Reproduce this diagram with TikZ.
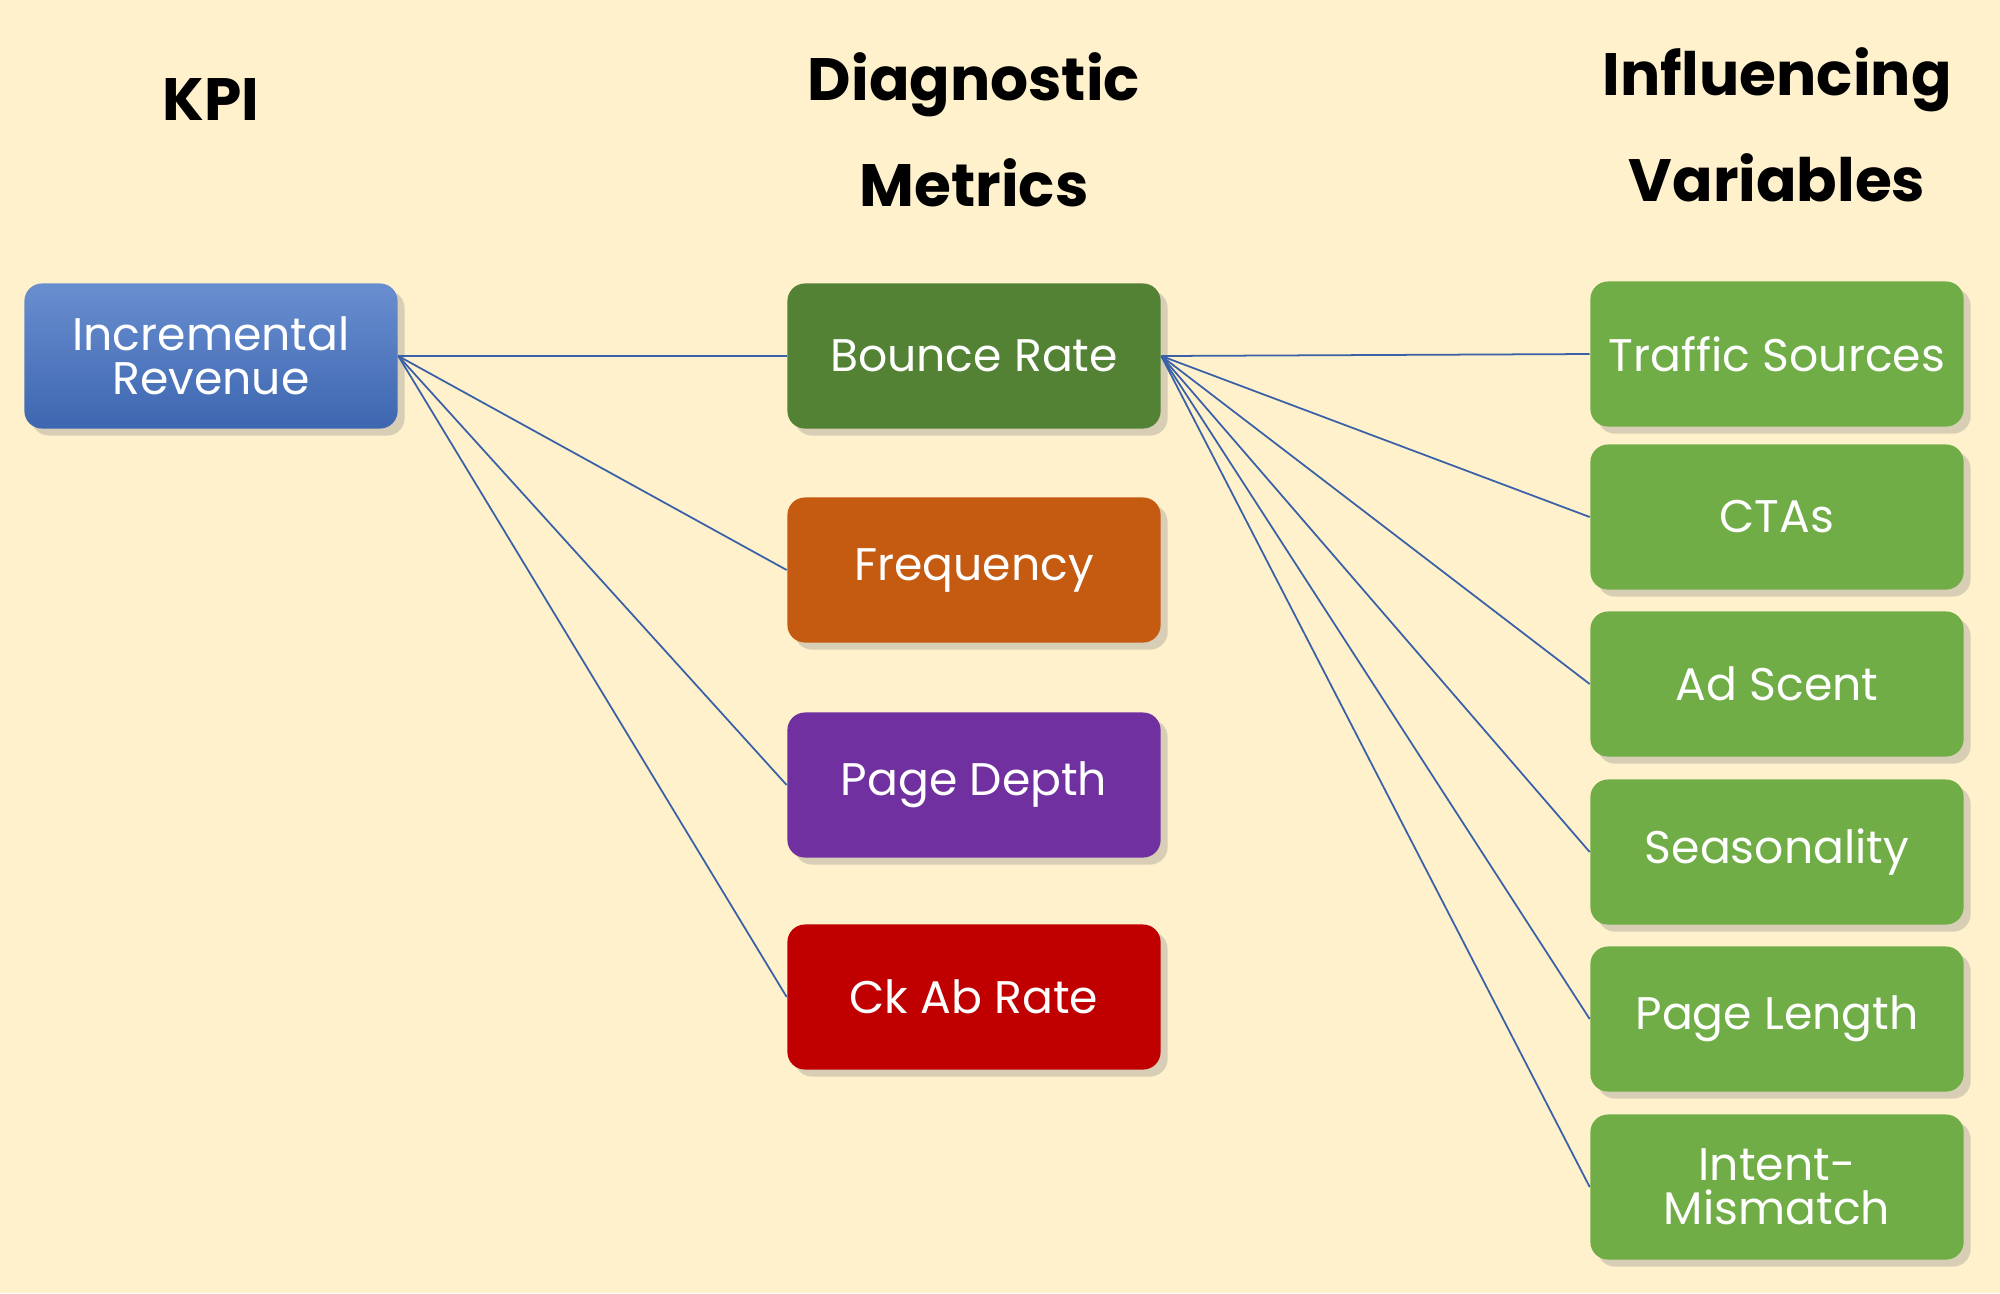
\documentclass[tikz,border=0pt]{standalone}
\usepackage{fontspec}
\setmainfont{Poppins}
\usetikzlibrary{shadows}
\definecolor{bg}{HTML}{FEF1CC}
\definecolor{kblue}{HTML}{4472C4}
\definecolor{dgreen}{HTML}{548235}
\definecolor{korange}{HTML}{C55A11}
\definecolor{kpurple}{HTML}{7030A0}
\definecolor{kred}{HTML}{C00000}
\definecolor{lgreen}{HTML}{70AD47}
\begin{document}
\begin{tikzpicture}[x=0.01cm,y=-0.01cm,
 box/.style={rounded corners=5pt,minimum width=3.73cm,minimum height=1.45cm,text=white,align=center,
   font=\fontsize{13}{12.5}\selectfont,drop shadow={shadow xshift=2pt,shadow yshift=-2pt,opacity=0.3}},
 hdr/.style={font=\fontsize{17}{30}\selectfont\bfseries,align=center},
 ln/.style={draw=kblue!85!black,line width=0.5pt}]
\useasboundingbox (0,0) rectangle (2000,1293);
\fill[bg] (0,0) rectangle (2000,1293);
\node[hdr] (h1) at (211,100) {KPI};
\node[hdr] (h2) at (974,130) {Diagnostic\\Metrics};
\node[hdr] (h3) at (1777,125) {Influencing\\Variables};
\node[box,top color=kblue!80!white,bottom color=kblue!90!black] (kpi) at (211,356) {Incremental\\Revenue};
\node[box,fill=dgreen] (br) at (974,356) {Bounce Rate};
\node[box,fill=korange] (fr) at (974,570) {Frequency};
\node[box,fill=kpurple] (pd) at (974,785) {Page Depth};
\node[box,fill=kred] (ck) at (974,997) {Ck Ab Rate};
\node[box,fill=lgreen] (ts) at (1777,354) {Traffic Sources};
\node[box,fill=lgreen] (ct) at (1777,517) {CTAs};
\node[box,fill=lgreen] (ad) at (1777,684) {Ad Scent};
\node[box,fill=lgreen] (se) at (1777,852) {Seasonality};
\node[box,fill=lgreen] (pl) at (1777,1019) {Page Length};
\node[box,fill=lgreen] (im) at (1777,1187) {Intent-\\Mismatch};
\foreach \t in {br,fr,pd,ck} \draw[ln] (kpi.east) -- (\t.west);
\foreach \t in {ts,ct,ad,se,pl,im} \draw[ln] (br.east) -- (\t.west);
\end{tikzpicture}
\end{document}
